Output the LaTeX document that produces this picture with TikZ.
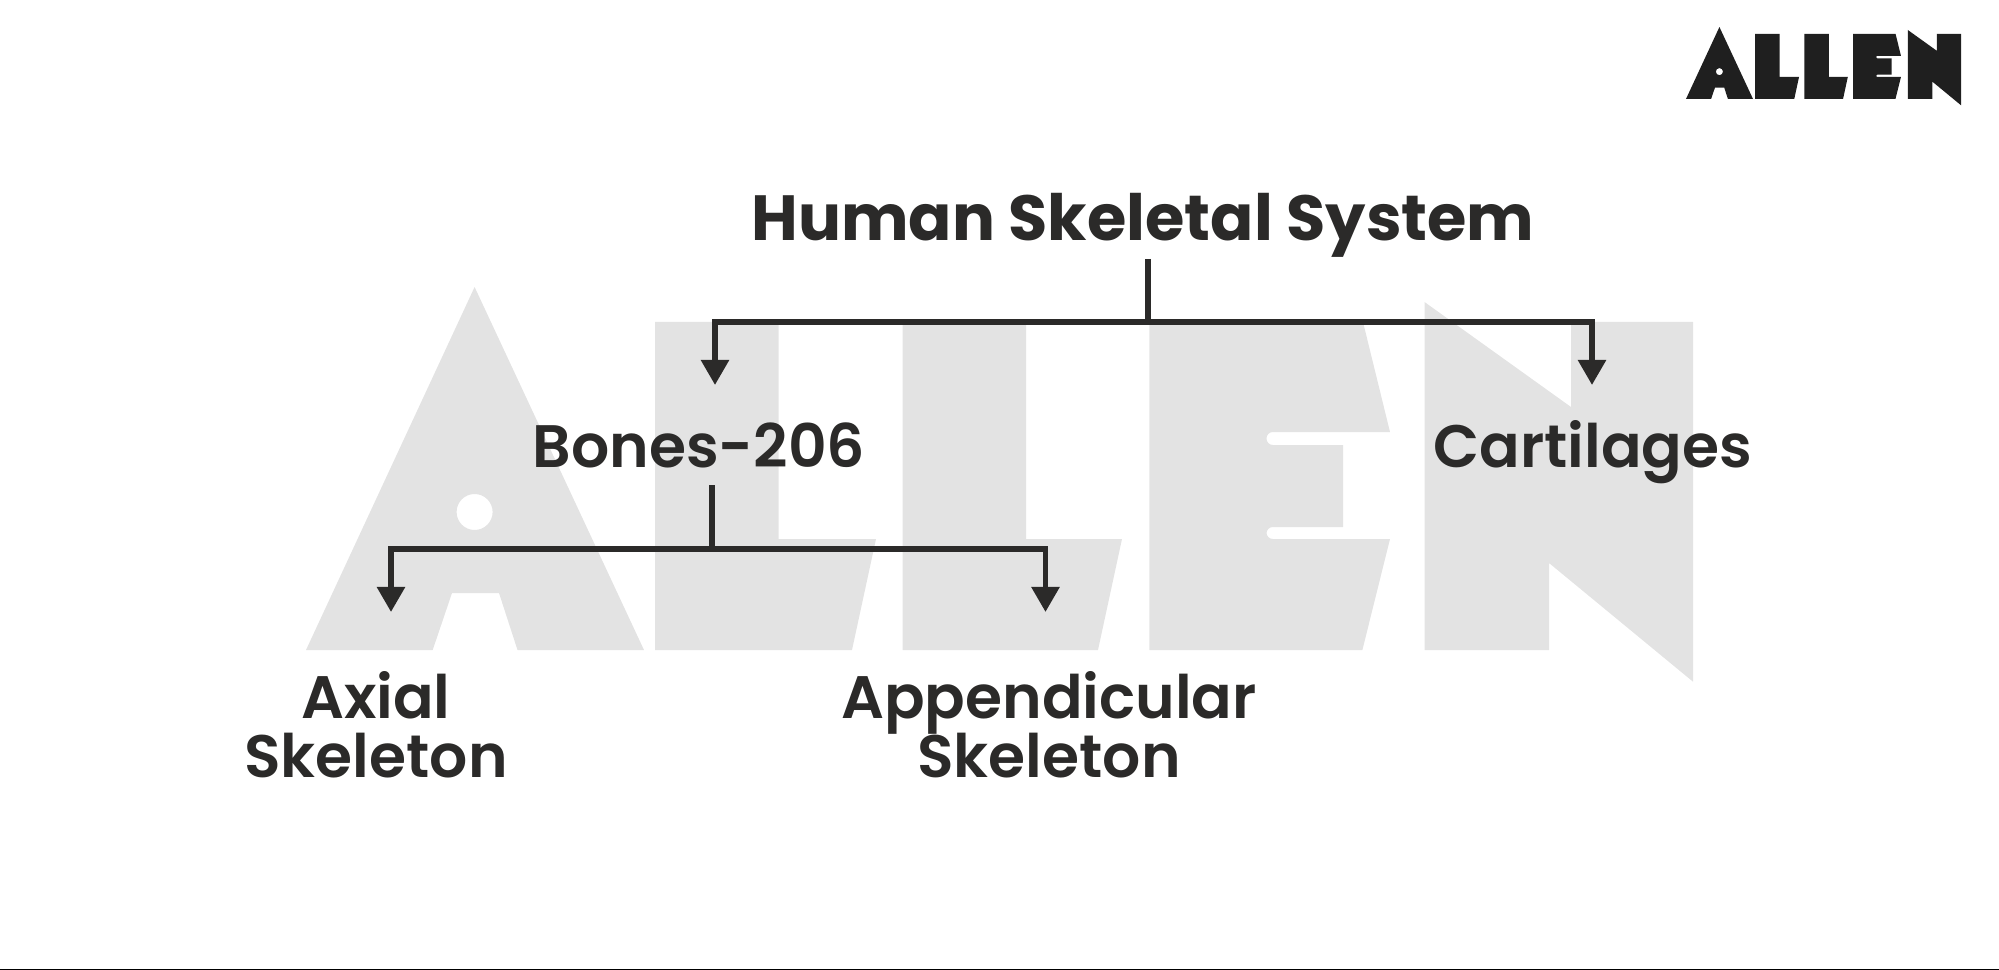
\documentclass[tikz,border=0pt]{standalone}
\usepackage{fontspec}
\setmainfont{Poppins}
\newfontfamily\labelfont{Poppins SemiBold}
\usetikzlibrary{arrows.meta}
\definecolor{inkdark}{HTML}{2B2A29}
\definecolor{markgrey}{HTML}{E3E3E3}
\newcommand{\markround}{1.8pt}
\newcommand{\tightlines}{\setlength{\lineskiplimit}{-20pt}}
\newcommand{\allenmark}{
	(306,650) -- (474.6,287) -- (644,650) -- (517.5,650) -- (499,593) -- (452,593) -- (432.7,650) -- cycle
	(474.6,512) circle[radius=18]
	(655,322) -- (778.7,322) -- (778.7,539) -- (876,539) -- (852,650) -- (655,650) -- cycle
	(902.5,322) -- (1026,322) -- (1026,539) -- (1122,539) -- (1098,650) -- (902.5,650) -- cycle
	(1149.4,322) -- (1363,322) -- (1390,432) [rounded corners=\markround] -- (1266.5,432) -- (1266.5,445) [sharp corners] -- (1343,445) -- (1343,527) [rounded corners=\markround] -- (1266.5,527) -- (1266.5,539) [sharp corners] -- (1390,539) -- (1362.4,650) -- (1149.4,650) -- cycle
	(1424.5,302) -- (1571,407) -- (1571,322) -- (1693,322) -- (1693,681.7) -- (1549,563) -- (1549,650) -- (1424.5,650) -- cycle
}
\tikzset{
  labelnode/.style = {align=center, inner sep=0pt, anchor=base, text=inkdark, font=\labelfont\fontsize{17.05}{16.5}\selectfont\tightlines},
  rootnode/.style = {labelnode, font=\bfseries\fontsize{18.15}{16.5}\selectfont},
  barline/.style = {draw=inkdark, line width=1.6pt},
  tipline/.style = {barline, -{Triangle[width=2.7mm, length=2.5mm]}}
}

\begin{document}
\begin{tikzpicture}[x=0.01cm, y=-0.01cm]
\useasboundingbox (0,0) rectangle (1999,970);
\fill[markgrey, even odd rule] \allenmark;
\begin{scope}[shift={(1625.3,-29.9)}, scale=0.1983]
	\renewcommand{\markround}{0.2pt}
	\fill[black!88, even odd rule] \allenmark;
\end{scope}
\fill[black] (0,968.5) rectangle (1999,970);

\node [rootnode] (human) at (1143,241) {Human Skeletal System};
\node [labelnode] (bones) at (699,468) {Bones-206};
\node [labelnode] (cartilages) at (1593,468) {Cartilages};
\node [labelnode] (axial) at (376,777) {Axial\\Skeleton};
\node [labelnode] (appendicular) at (1049,777) {Appendicular\\Skeleton};

\coordinate (humanout) at (1148,259);
\coordinate (humanbar) at (1148,322);
\coordinate (bonesin) at (715,385);
\coordinate (cartilagesin) at (1592,385);
\coordinate (bonesout) at (712,485);
\coordinate (bonesbar) at (712,549);
\coordinate (axialin) at (391,612);
\coordinate (appendicularin) at (1045.5,612);

\draw [barline] (humanout) -- (humanbar);
\draw [tipline] (humanbar) -| (bonesin);
\draw [tipline] (humanbar) -| (cartilagesin);
\draw [barline] (bonesout) -- (bonesbar);
\draw [tipline] (bonesbar) -| (axialin);
\draw [tipline] (bonesbar) -| (appendicularin);
\end{tikzpicture}
\end{document}
